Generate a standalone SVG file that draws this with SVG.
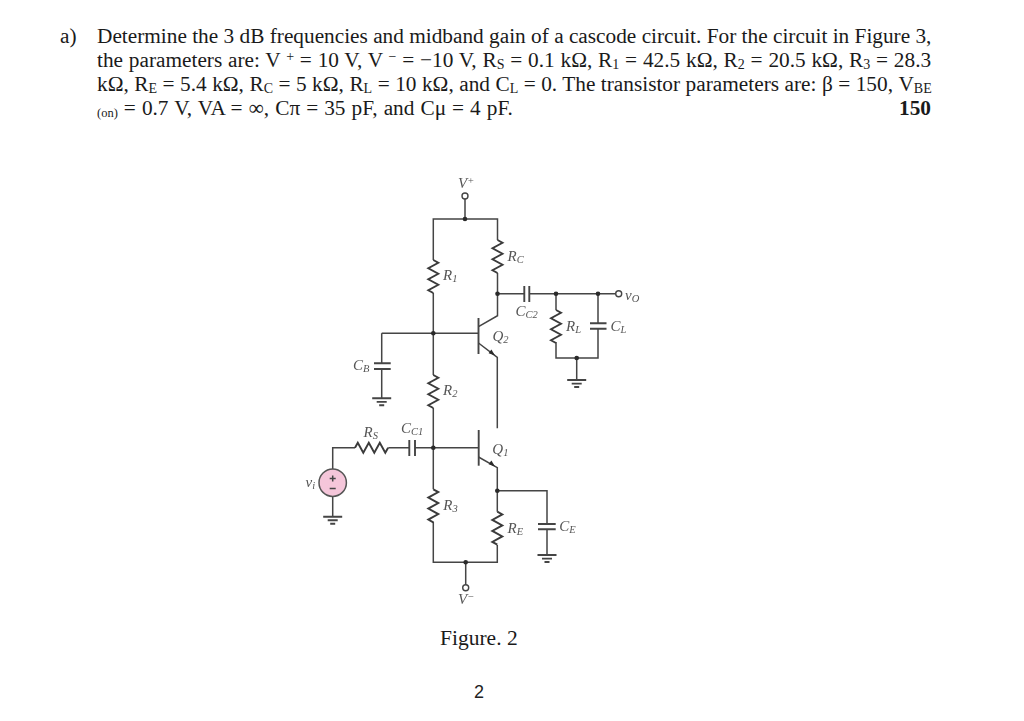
<svg xmlns="http://www.w3.org/2000/svg" width="1024" height="721" viewBox="0 0 1024 721">
<style>
.t{font-family:"Liberation Serif","Times New Roman",serif;font-size:21.3px;fill:#1a1a1a}
.s{font-size:14px}
.w{fill:none;stroke:#444;stroke-width:1.5;stroke-linejoin:miter}
.r{fill:none;stroke:#3a3a3a;stroke-width:1.9;stroke-linejoin:miter}
.p{fill:none;stroke:#444;stroke-width:1.9}
.l{font-family:"Liberation Serif","Times New Roman",serif;font-style:italic;font-size:15px;fill:#555}
.b{font-size:10.5px}
.d{fill:#2a2a2a}
</style>
<defs>
<filter id="soft" x="-5%" y="-5%" width="110%" height="110%"><feGaussianBlur stdDeviation="0.35"/></filter>
<path id="res" class="r" d="M0,0l5,2.75-10,5.5 10,5.5-10,5.5 10,5.5-10,5.5 5,2.75"/>
<g id="gnd"><path class="p" d="M-9.5,0H9.5M-5,3.6H5M-2.5,7H2.5"/></g>
<circle id="dot" class="d" r="2.3"/>
<circle id="term" r="3" fill="#fff" stroke="#444" stroke-width="1.4"/>
</defs>
<rect width="1024" height="721" fill="#fff"/>
<g id="question">
<text class="t" x="60" y="43">a)</text>
<text class="t" x="97" y="43">Determine the 3 dB frequencies and midband gain of a cascode circuit. For the circuit in Figure 3,</text>
<text class="t" x="97" y="67" word-spacing="0.47">the parameters are: V <tspan class="s" dy="-6">+</tspan><tspan dy="6"> = 10 V, V </tspan><tspan class="s" dy="-6">−</tspan><tspan dy="6"> = −10 V, R</tspan><tspan class="s" dy="2">S</tspan><tspan dy="-2"> = 0.1 kΩ, R</tspan><tspan class="s" dy="2">1</tspan><tspan dy="-2"> = 42.5 kΩ, R</tspan><tspan class="s" dy="2">2</tspan><tspan dy="-2"> = 20.5 kΩ, R</tspan><tspan class="s" dy="2">3</tspan><tspan dy="-2"> = 28.3</tspan></text>
<text class="t" x="97" y="91" word-spacing="0.16">kΩ, R<tspan class="s" dy="2">E</tspan><tspan dy="-2"> = 5.4 kΩ, R</tspan><tspan class="s" dy="2">C</tspan><tspan dy="-2"> = 5 kΩ, R</tspan><tspan class="s" dy="2">L</tspan><tspan dy="-2"> = 10 kΩ, and C</tspan><tspan class="s" dy="2">L</tspan><tspan dy="-2"> = 0. The transistor parameters are: β = 150, V</tspan><tspan class="s" dy="2">BE</tspan></text>
<text class="t" x="97" y="115" word-spacing="0.7"><tspan class="s" dy="2" style="font-size:12.5px">(on)</tspan><tspan dy="-2"> = 0.7 V, VA = ∞, Cπ = 35 pF, and Cμ = 4 pF.</tspan></text>
<text class="t" x="931" y="115" text-anchor="end" font-weight="bold">150</text>
</g>
<g filter="url(#soft)">
<g id="connectors">
<path class="w" d="M465,199V219M433.3,260V219H497.5V240M497.5,273V315.7L478.5,326.7M433.3,293V375M433.3,408V489.3M433.3,521.7V562.3H497.3V545M497.3,511.7V467.7L478.5,457M497.3,428.3V413L497.3,357.3L478.5,343M465.7,562.3V584.7"/>
<path class="w" d="M497.5,293.7H524.3M529.3,293.7H615.7M556,293.7V310M556,342V358H598V293.7M576.7,358V380"/>
<path class="w" d="M381.7,333.3H478.5M381.7,333.3V363.3M381.7,369V398.3"/>
<path class="w" d="M332.7,469V447.7H355M388.3,447.7H409.3M415,447.7H478.5M332.7,496.4V516.7"/>
<path class="w" d="M497.3,490.7H547V524M547,529.3V555"/>
</g>
<g id="node-vplus"><use href="#term" x="465" y="196"/><use href="#dot" x="465" y="219"/><text class="l" x="458" y="188">V<tspan class="b" dy="-4">+</tspan></text></g>
<g id="node-r1"><use href="#res" transform="translate(433.3,260)"/><text class="l" x="443" y="280">R<tspan class="b" dy="2">1</tspan></text></g>
<g id="node-rc"><use href="#res" transform="translate(497.5,240)"/><text class="l" x="507.5" y="261">R<tspan class="b" dy="2">C</tspan></text></g>
<g id="node-out"><use href="#dot" x="497.5" y="293.7"/></g>
<g id="node-cc2"><path class="p" d="M524.3,286V302M529.3,286V302"/><text class="l" x="515.5" y="316">C<tspan class="b" dy="2">C2</tspan></text></g>
<g id="node-rl"><use href="#dot" x="556" y="293.7"/><use href="#res" transform="translate(556,310)"/><text class="l" x="566" y="331">R<tspan class="b" dy="2">L</tspan></text></g>
<g id="node-cl"><use href="#dot" x="598" y="293.7"/><rect x="589" y="323.5" width="18" height="5" fill="#fff"/><path class="p" d="M590,323.3H606.5M590,328.7H606.5"/><text class="l" x="610.5" y="331">C<tspan class="b" dy="2">L</tspan></text></g>
<g id="node-vo"><use href="#term" x="618.7" y="293.7"/><text class="l" x="625" y="300">v<tspan class="b" dy="2">O</tspan></text></g>
<g id="node-gnd-load"><use href="#dot" x="576.7" y="358"/><use href="#gnd" x="576.7" y="380"/></g>
<g id="node-q2"><path class="p" d="M478.5,318V354"/><path class="d" d="M495,355.6L488.6,353.2 491.4,349.4Z"/><use href="#dot" x="433.3" y="333.3"/><text class="l" x="492.5" y="341">Q<tspan class="b" dy="2">2</tspan></text></g>
<g id="node-cb"><path class="p" d="M374,363.3H390.7M374,369H390.7"/><use href="#gnd" x="381.7" y="398.3"/><text class="l" x="353" y="370">C<tspan class="b" dy="2">B</tspan></text></g>
<g id="node-r2"><use href="#res" transform="translate(433.3,375)"/><text class="l" x="443" y="395">R<tspan class="b" dy="2">2</tspan></text></g>
<g id="node-q1"><path class="p" d="M478.7,430V465.7"/><path class="d" d="M495,466.6L488.6,464.2 491.4,460.4Z"/><use href="#dot" x="433.3" y="447.7"/><text class="l" x="492.3" y="454">Q<tspan class="b" dy="2">1</tspan></text></g>
<g id="node-rs"><path class="r" d="M355,447.7l2.8-5 5.5,10 5.5-10 5.5,10 5.5-10 5.5,10 2.8-5"/><text class="l" x="363.5" y="437">R<tspan class="b" dy="2">S</tspan></text></g>
<g id="node-cc1"><path class="p" d="M409.3,440V456M415,440V456"/><text class="l" x="401" y="433">C<tspan class="b" dy="2">C1</tspan></text></g>
<g id="node-vi"><circle cx="332.7" cy="482.7" r="13.7" fill="#f5c6da" stroke="#555" stroke-width="1.5"/><path class="w" d="M329.7,478.5H335.7M332.7,475.5V481.5M329.7,488.5H335.7"/><use href="#gnd" x="332.7" y="516.7"/><text class="l" x="305.5" y="487">v<tspan class="b" dy="2">i</tspan></text></g>
<g id="node-r3"><use href="#res" transform="translate(433.3,489.3)"/><text class="l" x="443.3" y="510">R<tspan class="b" dy="2">3</tspan></text></g>
<g id="node-re"><use href="#dot" x="497.3" y="490.7"/><use href="#res" transform="translate(497.3,511.7)"/><text class="l" x="507.5" y="532.5">R<tspan class="b" dy="2">E</tspan></text></g>
<g id="node-ce"><path class="p" d="M538,524H555.7M538,529.3H555.7"/><use href="#gnd" x="547" y="555"/><text class="l" x="559.3" y="531">C<tspan class="b" dy="2">E</tspan></text></g>
<g id="node-vminus"><use href="#dot" x="465.7" y="562.3"/><use href="#term" x="465.7" y="587.7"/><text class="l" x="458" y="604">V<tspan class="b" dy="-4">−</tspan></text></g>
</g>
<text class="t" x="440" y="645" style="font-size:21.5px">Figure. 2</text>
<text x="474" y="698" style="font-family:'Liberation Sans',Arial,sans-serif;font-size:18px;fill:#222">2</text>
</svg>
